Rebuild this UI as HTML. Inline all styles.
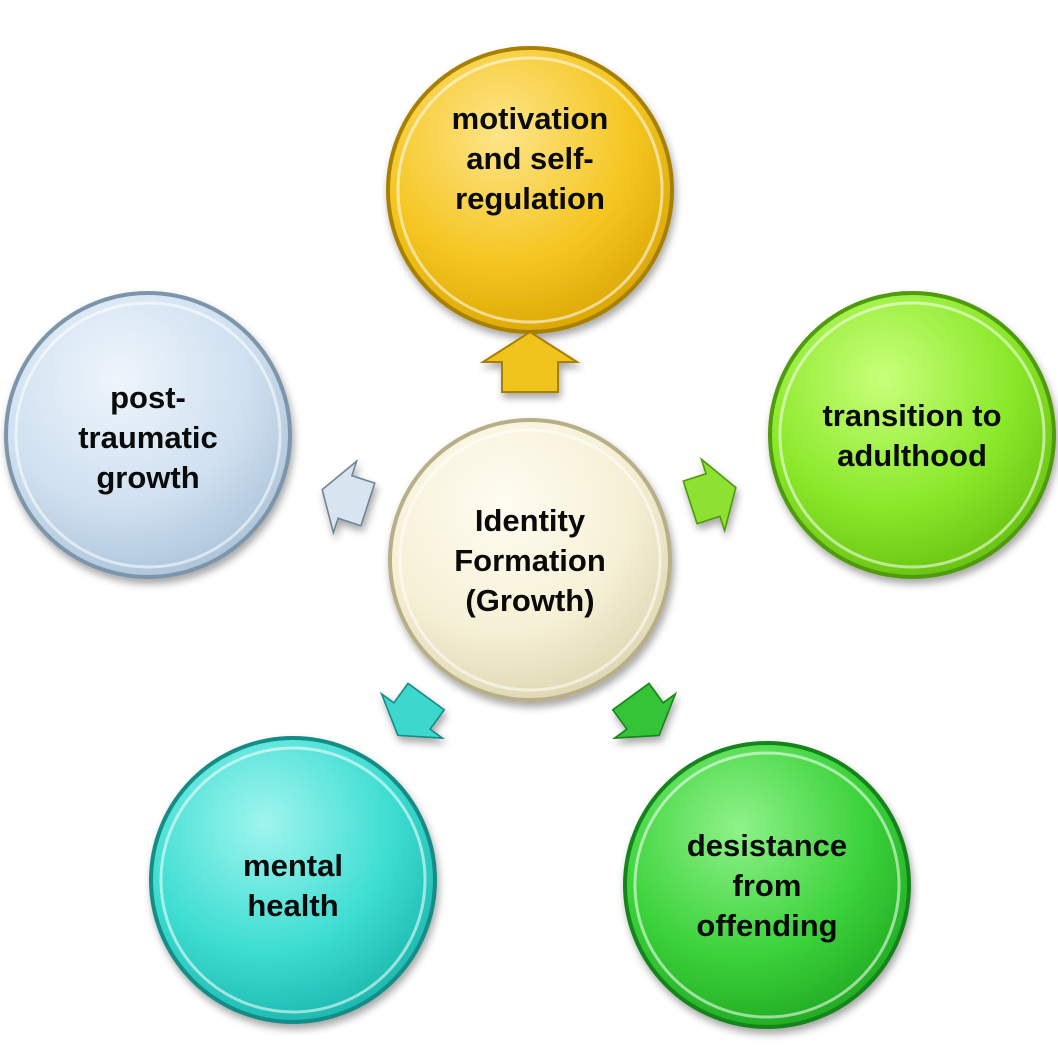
<!DOCTYPE html>
<html><head><meta charset="utf-8"><style>
html,body{margin:0;padding:0;background:#fff;}
svg{display:block;}
text{font-family:"Liberation Sans",sans-serif;font-weight:bold;font-size:31px;fill:#0a0a0a;text-anchor:middle;}
</style></head><body>
<svg width="1058" height="1059" viewBox="0 0 1058 1059">
<defs>
<radialGradient id="gy" cx="40%" cy="30%" r="75%"><stop offset="0" stop-color="#fde58a"/><stop offset="0.6" stop-color="#f5c622"/><stop offset="1" stop-color="#d9a500"/></radialGradient>
<radialGradient id="gg" cx="40%" cy="30%" r="75%"><stop offset="0" stop-color="#c8ff7a"/><stop offset="0.6" stop-color="#8ae82a"/><stop offset="1" stop-color="#66c010"/></radialGradient>
<radialGradient id="gd" cx="40%" cy="30%" r="75%"><stop offset="0" stop-color="#8ff28a"/><stop offset="0.6" stop-color="#3bd23a"/><stop offset="1" stop-color="#20a822"/></radialGradient>
<radialGradient id="gt" cx="40%" cy="30%" r="75%"><stop offset="0" stop-color="#9ff5ee"/><stop offset="0.6" stop-color="#3dddd2"/><stop offset="1" stop-color="#1ab5ac"/></radialGradient>
<radialGradient id="gb" cx="40%" cy="30%" r="75%"><stop offset="0" stop-color="#eef5fc"/><stop offset="0.6" stop-color="#cfe0f0"/><stop offset="1" stop-color="#aac2d8"/></radialGradient>
<radialGradient id="gc" cx="40%" cy="30%" r="75%"><stop offset="0" stop-color="#fffdf2"/><stop offset="0.6" stop-color="#f6f0d6"/><stop offset="1" stop-color="#ddd5b0"/></radialGradient>
<filter id="sh" x="-20%" y="-20%" width="140%" height="140%"><feDropShadow dx="2" dy="5" stdDeviation="4" flood-color="#000" flood-opacity="0.35"/></filter>
</defs>

<g filter="url(#sh)">
<circle cx="530" cy="190" r="142" fill="url(#gy)" stroke="#a88000" stroke-width="4"/>
<circle cx="912" cy="435" r="142" fill="url(#gg)" stroke="#4f9a10" stroke-width="4"/>
<circle cx="767" cy="885" r="142" fill="url(#gd)" stroke="#17841a" stroke-width="4"/>
<circle cx="293" cy="880" r="142" fill="url(#gt)" stroke="#148c86" stroke-width="4"/>
<circle cx="148" cy="435" r="142" fill="url(#gb)" stroke="#7d95aa" stroke-width="4"/>
<circle cx="530" cy="560" r="140" fill="url(#gc)" stroke="#b8ae88" stroke-width="4"/>
</g>
<g fill="none" stroke="#fff" stroke-opacity="0.55" stroke-width="3">
<circle cx="530" cy="190" r="132"/><circle cx="912" cy="435" r="132"/><circle cx="767" cy="885" r="132"/>
<circle cx="293" cy="880" r="132"/><circle cx="148" cy="435" r="132"/><circle cx="530" cy="560" r="130"/>
</g>

<g filter="url(#sh)" stroke-width="2">
<polygon transform="translate(530,362)" points="0,-30 47,0 28,0 28,30 -28,30 -28,0 -47,0" fill="#f0c41c" stroke="#a88000"/>
<polygon transform="translate(713,495) rotate(72) scale(0.8)" points="0,-30 47,0 28,0 28,30 -28,30 -28,0 -47,0" fill="#8ee030" stroke="#4f9a10"/>
<polygon transform="translate(345,497) rotate(-72) scale(0.8)" points="0,-30 47,0 28,0 28,30 -28,30 -28,0 -47,0" fill="#d8e4ef" stroke="#6f8498"/>
<polygon transform="translate(412,716) rotate(-144) scale(0.8)" points="0,-30 47,0 28,0 28,30 -28,30 -28,0 -47,0" fill="#3dd8cd" stroke="#148c86"/>
<polygon transform="translate(645,716) rotate(144) scale(0.8)" points="0,-30 47,0 28,0 28,30 -28,30 -28,0 -47,0" fill="#34c438" stroke="#17841a"/>
</g>

<text x="530" y="129">motivation</text>
<text x="530" y="169">and self-</text>
<text x="530" y="209">regulation</text>
<text x="912" y="426">transition to</text>
<text x="912" y="466">adulthood</text>
<text x="767" y="856">desistance</text>
<text x="767" y="896">from</text>
<text x="767" y="936">offending</text>
<text x="293" y="876">mental</text>
<text x="293" y="916">health</text>
<text x="148" y="408">post-</text>
<text x="148" y="448">traumatic</text>
<text x="148" y="488">growth</text>
<text x="530" y="531">Identity</text>
<text x="530" y="571">Formation</text>
<text x="530" y="611">(Growth)</text>
</svg>
</body></html>
